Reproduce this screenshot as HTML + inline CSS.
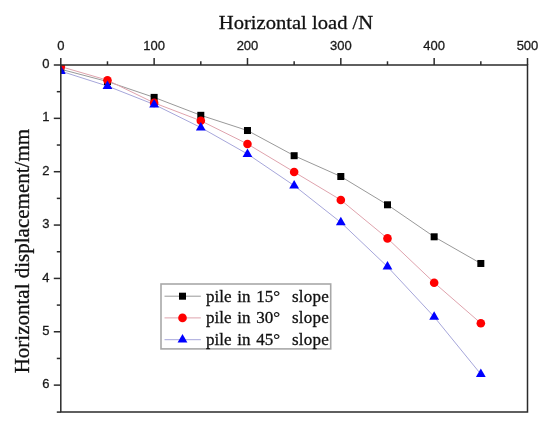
<!DOCTYPE html>
<html><head><meta charset="utf-8"><style>
html,body{margin:0;padding:0;background:#fff;}
svg{display:block;}
.tl{font-family:"Liberation Sans",Arial,sans-serif;font-size:13px;fill:#1a1a1a;stroke:#1a1a1a;stroke-width:0.3px;}
.ti{font-family:"Liberation Serif","Times New Roman",serif;fill:#111;stroke:#111;stroke-width:0.3px;}
</style></head><body>
<svg width="550" height="432" viewBox="0 0 550 432">
<rect x="0" y="0" width="550" height="432" fill="#fff"/>
<defs><clipPath id="pc"><rect x="60.80" y="65.00" width="466.70" height="346.80"/></clipPath></defs>

<g clip-path="url(#pc)">
<polyline points="60.80,69.27 107.47,81.54 154.14,97.39 200.81,115.31 247.48,130.52 294.15,155.70 340.82,176.51 387.49,204.79 434.16,236.80 480.83,263.48" fill="none" stroke="#999999" stroke-width="1"/>
<polyline points="60.80,66.60 107.47,80.21 154.14,102.88 200.81,120.75 247.48,143.96 294.15,171.97 340.82,199.99 387.49,238.40 434.16,282.68 480.83,323.23" fill="none" stroke="#dfa3ad" stroke-width="1"/>
<polyline points="60.80,71.14 107.47,86.07 154.14,104.48 200.81,127.53 247.48,153.99 294.15,185.58 340.82,222.39 387.49,266.68 434.16,316.83 480.83,374.19" fill="none" stroke="#a6a6da" stroke-width="1"/>
<rect x="57.30" y="65.77" width="7" height="7" fill="#000"/>
<rect x="103.97" y="78.04" width="7" height="7" fill="#000"/>
<rect x="150.64" y="93.89" width="7" height="7" fill="#000"/>
<rect x="197.31" y="111.81" width="7" height="7" fill="#000"/>
<rect x="243.98" y="127.02" width="7" height="7" fill="#000"/>
<rect x="290.65" y="152.20" width="7" height="7" fill="#000"/>
<rect x="337.32" y="173.01" width="7" height="7" fill="#000"/>
<rect x="383.99" y="201.29" width="7" height="7" fill="#000"/>
<rect x="430.66" y="233.30" width="7" height="7" fill="#000"/>
<rect x="477.33" y="259.98" width="7" height="7" fill="#000"/>
<circle cx="60.80" cy="66.60" r="4.3" fill="#ff0000"/>
<circle cx="107.47" cy="80.21" r="4.3" fill="#ff0000"/>
<circle cx="154.14" cy="102.88" r="4.3" fill="#ff0000"/>
<circle cx="200.81" cy="120.75" r="4.3" fill="#ff0000"/>
<circle cx="247.48" cy="143.96" r="4.3" fill="#ff0000"/>
<circle cx="294.15" cy="171.97" r="4.3" fill="#ff0000"/>
<circle cx="340.82" cy="199.99" r="4.3" fill="#ff0000"/>
<circle cx="387.49" cy="238.40" r="4.3" fill="#ff0000"/>
<circle cx="434.16" cy="282.68" r="4.3" fill="#ff0000"/>
<circle cx="480.83" cy="323.23" r="4.3" fill="#ff0000"/>
<polygon points="60.80,65.54 65.70,74.04 55.90,74.04" fill="#0000ff"/>
<polygon points="107.47,80.47 112.37,88.97 102.57,88.97" fill="#0000ff"/>
<polygon points="154.14,98.88 159.04,107.38 149.24,107.38" fill="#0000ff"/>
<polygon points="200.81,121.93 205.71,130.43 195.91,130.43" fill="#0000ff"/>
<polygon points="247.48,148.39 252.38,156.89 242.58,156.89" fill="#0000ff"/>
<polygon points="294.15,179.98 299.05,188.48 289.25,188.48" fill="#0000ff"/>
<polygon points="340.82,216.79 345.72,225.29 335.92,225.29" fill="#0000ff"/>
<polygon points="387.49,261.08 392.39,269.58 382.59,269.58" fill="#0000ff"/>
<polygon points="434.16,311.23 439.06,319.73 429.26,319.73" fill="#0000ff"/>
<polygon points="480.83,368.59 485.73,377.09 475.93,377.09" fill="#0000ff"/>
</g>
<g stroke="#2b2b2b" stroke-width="1.5" fill="none" stroke-linecap="square">
<path d="M60.8,65 H527.5 V412.1 H60.8 Z"/>
</g><g stroke="#2b2b2b" stroke-width="1.5">
<line x1="60.80" y1="58.00" x2="60.80" y2="65.00"/>
<line x1="107.47" y1="61.30" x2="107.47" y2="65.00"/>
<line x1="154.14" y1="58.00" x2="154.14" y2="65.00"/>
<line x1="200.81" y1="61.30" x2="200.81" y2="65.00"/>
<line x1="247.48" y1="58.00" x2="247.48" y2="65.00"/>
<line x1="294.15" y1="61.30" x2="294.15" y2="65.00"/>
<line x1="340.82" y1="58.00" x2="340.82" y2="65.00"/>
<line x1="387.49" y1="61.30" x2="387.49" y2="65.00"/>
<line x1="434.16" y1="58.00" x2="434.16" y2="65.00"/>
<line x1="480.83" y1="61.30" x2="480.83" y2="65.00"/>
<line x1="527.50" y1="58.00" x2="527.50" y2="65.00"/>
<line x1="53.80" y1="65.00" x2="60.80" y2="65.00"/>
<line x1="56.80" y1="91.68" x2="60.80" y2="91.68"/>
<line x1="53.80" y1="118.35" x2="60.80" y2="118.35"/>
<line x1="56.80" y1="145.03" x2="60.80" y2="145.03"/>
<line x1="53.80" y1="171.71" x2="60.80" y2="171.71"/>
<line x1="56.80" y1="198.38" x2="60.80" y2="198.38"/>
<line x1="53.80" y1="225.06" x2="60.80" y2="225.06"/>
<line x1="56.80" y1="251.74" x2="60.80" y2="251.74"/>
<line x1="53.80" y1="278.42" x2="60.80" y2="278.42"/>
<line x1="56.80" y1="305.09" x2="60.80" y2="305.09"/>
<line x1="53.80" y1="331.77" x2="60.80" y2="331.77"/>
<line x1="56.80" y1="358.45" x2="60.80" y2="358.45"/>
<line x1="53.80" y1="385.12" x2="60.80" y2="385.12"/>
<line x1="56.80" y1="412.10" x2="60.80" y2="412.10"/>
</g>
<text class="tl" x="60.80" y="49.5" text-anchor="middle">0</text>
<text class="tl" x="154.14" y="49.5" text-anchor="middle">100</text>
<text class="tl" x="247.48" y="49.5" text-anchor="middle">200</text>
<text class="tl" x="340.82" y="49.5" text-anchor="middle">300</text>
<text class="tl" x="434.16" y="49.5" text-anchor="middle">400</text>
<text class="tl" x="527.50" y="49.5" text-anchor="middle">500</text>
<text class="tl" x="49.5" y="68.10" text-anchor="end">0</text>
<text class="tl" x="49.5" y="121.45" text-anchor="end">1</text>
<text class="tl" x="49.5" y="174.81" text-anchor="end">2</text>
<text class="tl" x="49.5" y="228.16" text-anchor="end">3</text>
<text class="tl" x="49.5" y="281.52" text-anchor="end">4</text>
<text class="tl" x="49.5" y="334.87" text-anchor="end">5</text>
<text class="tl" x="49.5" y="388.22" text-anchor="end">6</text>
<text class="ti" transform="translate(218.8,28.9) scale(1,0.95)" x="0" y="0" style="font-size:20.6px">Horizontal load /N</text>
<text class="ti" transform="translate(29.3,373.3) rotate(-90)" x="0" y="0" style="font-size:21px">Horizontal displacement/mm</text>
<rect x="161" y="284" width="169.7" height="64.9" fill="#fff" stroke="#a8a8a8" stroke-width="1.6"/>
<line x1="164.5" y1="296.20" x2="200.8" y2="296.20" stroke="#999999" stroke-width="1"/>
<rect x="179.00" y="292.70" width="7" height="7" fill="#000"/>
<text class="ti" x="206" y="301.50" style="font-size:17px;word-spacing:1.5px">pile in 15°</text>
<text class="ti" x="292" y="301.50" style="font-size:17px;letter-spacing:0.25px">slope</text>
<line x1="164.5" y1="317.90" x2="200.8" y2="317.90" stroke="#dfa3ad" stroke-width="1"/>
<circle cx="182.50" cy="317.90" r="4.3" fill="#ff0000"/>
<text class="ti" x="206" y="323.20" style="font-size:17px;word-spacing:1.5px">pile in 30°</text>
<text class="ti" x="292" y="323.20" style="font-size:17px;letter-spacing:0.25px">slope</text>
<line x1="164.5" y1="339.70" x2="200.8" y2="339.70" stroke="#a6a6da" stroke-width="1"/>
<polygon points="182.50,334.10 187.40,342.60 177.60,342.60" fill="#0000ff"/>
<text class="ti" x="206" y="345.00" style="font-size:17px;word-spacing:1.5px">pile in 45°</text>
<text class="ti" x="292" y="345.00" style="font-size:17px;letter-spacing:0.25px">slope</text>
</svg></body></html>
